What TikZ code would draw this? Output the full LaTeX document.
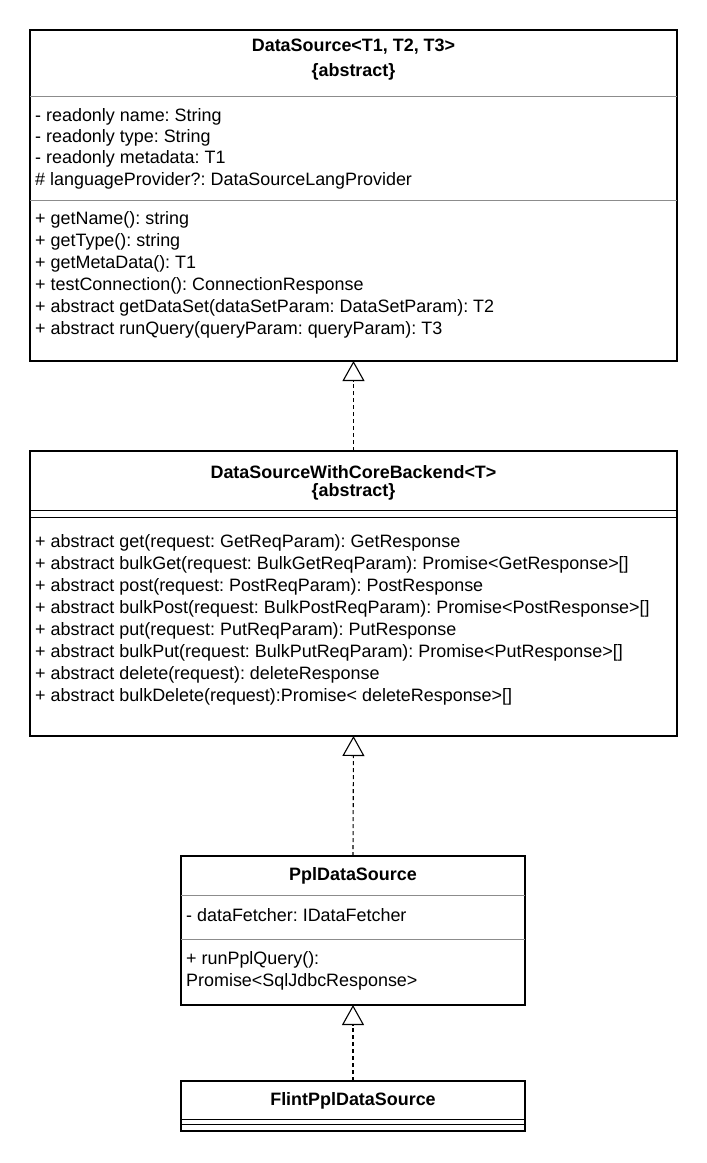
\documentclass[tikz,border=0pt]{standalone}
\usepackage{fontspec}
\setmainfont{Liberation Sans}
\frenchspacing
\usetikzlibrary{arrows.meta}
\begin{document}
\frenchspacing
\begin{tikzpicture}[x=1bp,y=-1bp,
  box/.style={draw=black,line width=1.2bp},
  sep/.style={draw=black!45,line width=1bp},
  dsep/.style={draw=black,line width=1bp},
  txt/.style={anchor=west,inner sep=0pt,font=\fontsize{18}{20}\selectfont},
  ttl/.style={inner sep=0pt,font=\fontsize{18}{20}\selectfont\bfseries},
  real/.style={draw=black,line width=1.1bp,dash pattern=on 4bp off 3bp,-{Triangle[open,length=20bp,width=22bp]}}]
\useasboundingbox (0,0) rectangle (707,1163);
% Box 1
\draw[box] (30,30) rectangle (677,361);
\coordinate (b1s) at (353.5,361);
\node[ttl] (t1) at (353.5,47) {DataSource<T1, T2, T3>};
\node[ttl] (t1b) at (353.5,72) {\{abstract\}};
\draw[sep] (30,96) -- (677,96);
\node[txt] (a1) at (35,117) {- readonly name: String};
\node[txt] (a2) at (35,138) {- readonly type: String};
\node[txt] (a3) at (35,159) {- readonly metadata: T1};
\node[txt] (a4) at (35,181) {\# languageProvider?: DataSourceLangProvider};
\draw[sep] (30,200) -- (677,200);
\node[txt] (m1) at (35,220) {+ getName(): string};
\node[txt] (m2) at (35,242) {+ getType(): string};
\node[txt] (m3) at (35,264) {+ getMetaData(): T1};
\node[txt] (m4) at (35,286) {+ testConnection(): ConnectionResponse};
\node[txt] (m5) at (35,308) {+ abstract getDataSet(dataSetParam: DataSetParam): T2};
\node[txt] (m6) at (35,330) {+ abstract runQuery(queryParam: queryParam): T3};
% Box 2
\draw[box] (30,451) rectangle (677,736);
\coordinate (b2n) at (353.5,451);
\coordinate (b2s) at (353.5,736);
\node[ttl] (t2) at (353.5,472) {DataSourceWithCoreBackend<T>};
\node[ttl] (t2b) at (353.5,492) {\{abstract\}};
\draw[dsep] (30,510) -- (677,510);
\draw[dsep] (30,517) -- (677,517);
\node[txt] (n1) at (35,543) {+ abstract get(request: GetReqParam): GetResponse};
\node[txt] (n2) at (35,565) {+ abstract bulkGet(request: BulkGetReqParam): Promise<GetResponse>[]};
\node[txt] (n3) at (35,587) {+ abstract post(request: PostReqParam): PostResponse};
\node[txt] (n4) at (35,609) {+ abstract bulkPost(request: BulkPostReqParam): Promise<PostResponse>[]};
\node[txt] (n5) at (35,631) {+ abstract put(request: PutReqParam): PutResponse};
\node[txt] (n6) at (35,653) {+ abstract bulkPut(request: BulkPutReqParam): Promise<PutResponse>[]};
\node[txt] (n7) at (35,675) {+ abstract delete(request): deleteResponse};
\node[txt] (n8) at (35,697) {+ abstract bulkDelete(request):Promise< deleteResponse>[]};
% Box 3
\draw[box] (181,856) rectangle (525,1005);
\coordinate (b3n) at (353,856);
\coordinate (b3s) at (353,1005);
\node[ttl] (t3) at (353,876) {PplDataSource};
\draw[sep] (181,895) -- (525,895);
\node[txt] (p1) at (186,915) {- dataFetcher: IDataFetcher};
\draw[sep] (181,939) -- (525,939);
\node[txt] (p2) at (186,960) {+ runPplQuery():};
\node[txt] (p3) at (186,982) {Promise<SqlJdbcResponse>};
% Box 4
\draw[box] (181,1081) rectangle (525,1131);
\coordinate (b4n) at (353,1081);
\node[ttl] (t4) at (353,1101) {FlintPplDataSource};
\draw[dsep] (181,1119) -- (525,1119);
\draw[dsep] (181,1124) -- (525,1124);
% arrows
\draw[real] (b2n) -- (b1s);
\draw[real] (b3n) -- (b2s);
\draw[real] (b4n) -- (b3s);
\end{tikzpicture}
\end{document}
